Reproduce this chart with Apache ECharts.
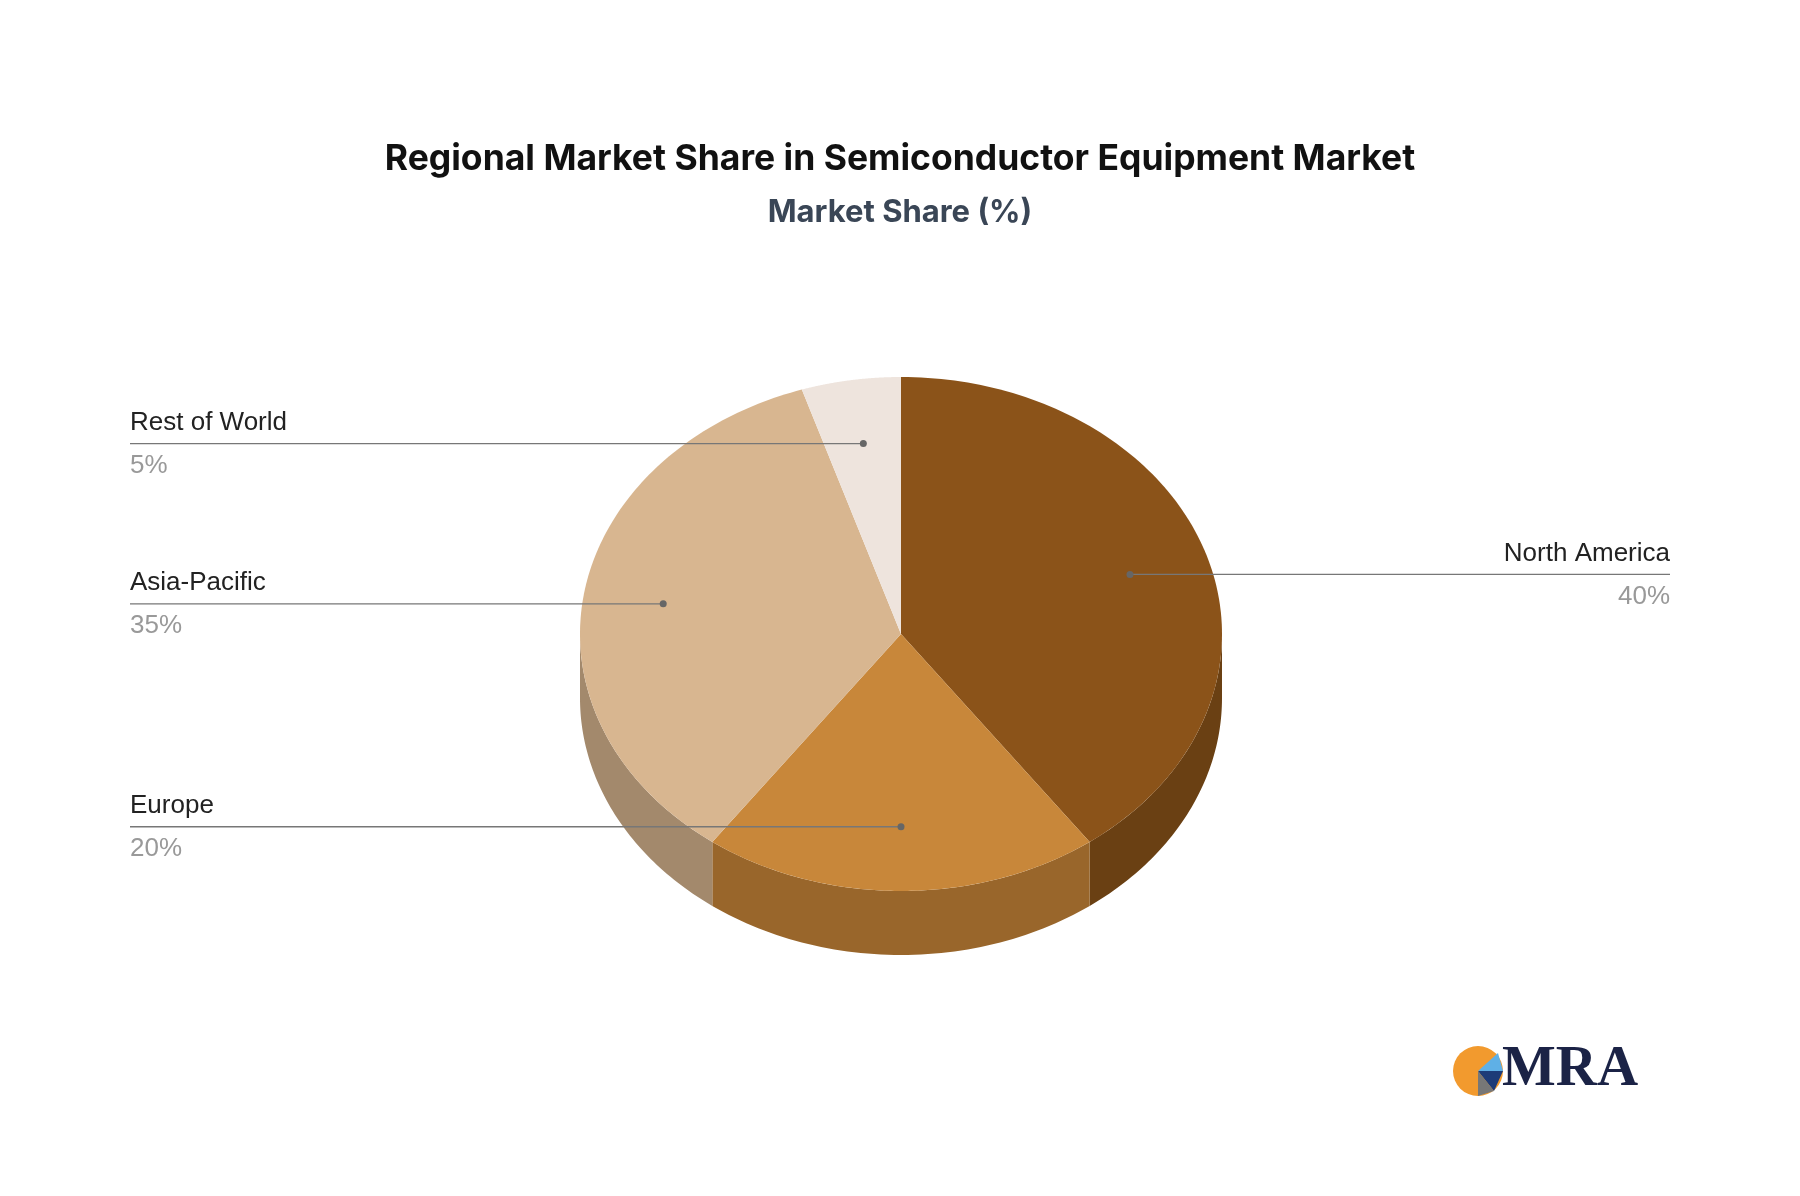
<!DOCTYPE html>
<html><head><meta charset="utf-8">
<script src="https://cdn.jsdelivr.net/npm/echarts@6/dist/echarts.min.js"></script>
<style>html,body{margin:0;padding:0;background:#fff}#c{width:1800px;height:1196px}</style>
</head><body><div id="c"></div>
<script>
const categories = ['North America', 'Europe', 'Asia-Pacific', 'Rest of World'];
const values = [40, 20, 35, 5];
const topColors = ['#8B5319', '#C8873A', '#D8B690', '#EEE4DD'];
const sideColors = ['#6A4013', '#99662B', '#A3896C', '#B8ADA5'];
const labelSide = ['right', 'left', 'left', 'left'];

const chart = echarts.init(document.getElementById('c'));
function renderItem(params, api) {
  const cx = 901, cy = 634, rx = 321, ry = 257, depth = 64;
  const total = values.reduce((a, b) => a + b, 0);
  const pt = (t, d) => [cx + rx * Math.sin(t), cy - ry * Math.cos(t) + (d || 0)];
  const sides = [], tops = [], labels = [];
  let start = 0;
  values.forEach((v, i) => {
    const end = start + v / total * Math.PI * 2;
    const s = Math.max(start, Math.PI / 2), e = Math.min(end, Math.PI * 1.5);
    if (e > s) {
      const pts = [];
      const n = 60;
      for (let k = 0; k <= n; k++) pts.push(pt(s + (e - s) * k / n));
      for (let k = n; k >= 0; k--) pts.push(pt(s + (e - s) * k / n, depth));
      sides.push({ type: 'polygon', shape: { points: pts }, style: { fill: sideColors[i] } });
    }
    const tp = [[cx, cy]];
    const n2 = 120;
    for (let k = 0; k <= n2; k++) tp.push(pt(start + (end - start) * k / n2));
    tops.push({ type: 'polygon', shape: { points: tp }, style: { fill: topColors[i] } });
    const mid = (start + end) / 2;
    const ax = cx + 0.75 * rx * Math.sin(mid), ay = cy - 0.75 * ry * Math.cos(mid);
    const right = labelSide[i] === 'right';
    const ex = right ? 1670 : 130;
    labels.push({ type: 'line', shape: { x1: ax, y1: ay, x2: ex, y2: ay }, style: { stroke: '#777', lineWidth: 1.3 } });
    labels.push({ type: 'circle', shape: { cx: ax, cy: ay, r: 3.5 }, style: { fill: '#666' } });
    labels.push({ type: 'text', style: { x: ex, y: ay - 21, text: categories[i], fill: '#222', font: '26px "Liberation Sans", Arial', align: right ? 'right' : 'left', verticalAlign: 'middle' } });
    labels.push({ type: 'text', style: { x: ex, y: ay + 22, text: v + '%', fill: '#999', font: '26px "Liberation Sans", Arial', align: right ? 'right' : 'left', verticalAlign: 'middle' } });
    start = end;
  });
  return { type: 'group', children: sides.concat(tops, labels) };
}
chart.setOption({
  backgroundColor: '#fff',
  title: {
    text: 'Regional Market Share in Semiconductor Equipment Market',
    subtext: 'Market Share (%)',
    left: 'center', top: 136, itemGap: 20,
    textStyle: { fontFamily: 'Inter', fontWeight: 'bold', fontSize: 35.5, color: '#111' },
    subtextStyle: { fontFamily: 'Inter', fontWeight: 'bold', fontSize: 31, color: '#3a4656' }
  },
  series: [{ type: 'custom', coordinateSystem: 'none', renderItem, data: [0], silent: true }],
  graphic: [
    { type: 'circle', shape: { cx: 1478, cy: 1071, r: 25 }, style: { fill: '#F29A2E' } },
    { type: 'polygon', shape: { points: [[1478,1071],[1498,1053],[1503,1071]] }, style: { fill: '#5fb0e6' } },
    { type: 'polygon', shape: { points: [[1478,1071],[1503,1071],[1494,1091]] }, style: { fill: '#1d3b78' } },
    { type: 'polygon', shape: { points: [[1478,1071],[1494,1091],[1478,1096]] }, style: { fill: '#777' } },
    { type: 'text', left: 1502, top: 1042, style: { text: 'MRA', fill: '#1b2346', font: 'bold 57px "Liberation Serif", serif' } }
  ]
});
</script></body></html>
